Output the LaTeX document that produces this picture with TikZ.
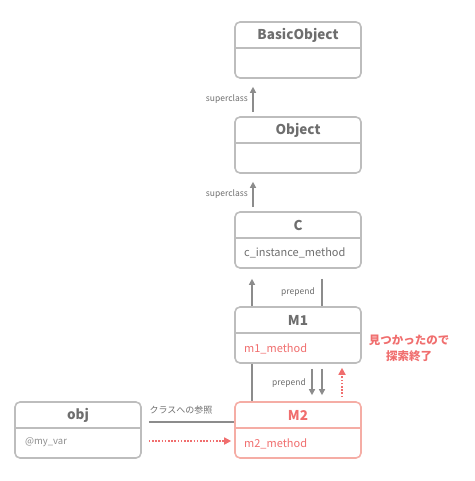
\documentclass[tikz,border=0pt]{standalone}
\usepackage{fontspec}
\setmainfont{Noto Sans CJK JP}
\usetikzlibrary{arrows.meta,calc}
\definecolor{bgray}{HTML}{BDBDBD}
\definecolor{tgray}{HTML}{6E6E6E}
\definecolor{agray}{HTML}{8C8C8C}
\definecolor{rtext}{HTML}{F06E6E}
\definecolor{rbox}{HTML}{F5ADA5}
\tikzset{
  box/.style={draw=bgray,line width=1.6pt,rounded corners=5pt,minimum width=126pt,minimum height=56pt,inner sep=0pt},
  rbx/.style={box,draw=rbox},
  divline/.style={draw=bgray,line width=1.4pt},
  rdivline/.style={draw=rbox,line width=1.4pt},
  ttl/.style={text=tgray,font=\fontsize{13.5}{15}\selectfont\bfseries,inner sep=0pt},
  meth/.style={text=tgray,font=\fontsize{11}{13}\selectfont,anchor=west,inner sep=0pt},
  lbl/.style={text=tgray,font=\fontsize{8.5}{10}\selectfont,inner sep=0pt},
  garrow/.style={draw=agray,line width=1.3pt,-{Triangle[length=6pt,width=6pt]}},
  gline/.style={draw=agray,line width=1.3pt},
  thick gline/.style={draw=agray,line width=2pt},
  rdot/.style={draw=rtext,line width=1.6pt,dash pattern=on 1.6pt off 1.6pt,-{Triangle[length=7pt,width=7pt]}},
}
\begin{document}
\begin{tikzpicture}[x=1pt,y=-1pt]
\useasboundingbox (0,0) rectangle (474,481);
% boxes
\node[box] (bo) at (298,50) {};
\node[ttl] (bot) at (298,35.5) {BasicObject};
\draw[divline] (bo.west |- 0,48) -- (bo.east |- 0,48);

\node[box] (ob) at (298,145) {};
\node[ttl] (obt) at (298,130.5) {Object};
\draw[divline] (ob.west |- 0,143) -- (ob.east |- 0,143);

\node[box] (c) at (298,240) {};
\node[ttl] (ct) at (298,225.5) {C};
\draw[divline] (c.west |- 0,238) -- (c.east |- 0,238);
\node[meth] (cm) at (244,253) {c\_instance\_method};

\node[box] (m1) at (298,335) {};
\node[ttl] (m1t) at (298,320.5) {M1};
\draw[divline] (m1.west |- 0,333) -- (m1.east |- 0,333);
\node[meth,text=rtext] (m1m) at (244,348.5) {m1\_method};

\node[rbx] (m2) at (298,430) {};
\node[ttl,text=rtext] (m2t) at (298,415.5) {M2};
\draw[rdivline] (m2.west |- 0,428) -- (m2.east |- 0,428);
\node[meth,text=rtext] (m2m) at (244,443.5) {m2\_method};

\node[box] (obj) at (78,430) {};
\node[ttl] (objt) at (78,415.5) {obj};
\draw[divline] (obj.west |- 0,428) -- (obj.east |- 0,428);
\node[meth,font=\fontsize{9.5}{11}\selectfont,text=agray] (objm) at (25,442) {@my\_var};

% superclass arrows
\coordinate (s1a) at ($(ob.north)+(-45,-4)$);
\coordinate (s1b) at ($(bo.south)+(-45,8)$);
\draw[garrow] (s1a) -- (s1b);
\node[lbl,anchor=east] (sl1) at (248,99) {superclass};

\coordinate (s2a) at ($(c.north)+(-45,-4)$);
\coordinate (s2b) at ($(ob.south)+(-45,8)$);
\draw[garrow] (s2a) -- (s2b);
\node[lbl,anchor=east] (sl2) at (248,194) {superclass};

% C - M1
\coordinate (p1b) at ($(c.south)+(-46,10)$);
\draw[garrow] (m1.north -| p1b) -- (p1b);
\coordinate (p1r) at ($(c.south)+(24,10)$);
\draw[gline] (p1r) -- (m1.north -| p1r);
\node[lbl] (pl1) at (298,292) {prepend};

% M1 - M2
\coordinate (q1) at ($(m1.south)+(-46,0)$);
\draw[thick gline] (q1) -- (m2.north -| q1);
\coordinate (d1a) at ($(m1.south)+(14,5)$);
\coordinate (d1b) at ($(m2.north)+(14,-6)$);
\draw[garrow] (d1a) -- (d1b);
\coordinate (d2a) at ($(m1.south)+(24,5)$);
\coordinate (d2b) at ($(m2.north)+(24,-6)$);
\draw[garrow] (d2a) -- (d2b);
\node[lbl] (pl2) at (289,383) {prepend};
\coordinate (r1a) at ($(m2.north)+(44,-4)$);
\coordinate (r1b) at ($(m1.south)+(44,4)$);
\draw[rdot] (r1a) -- (r1b);

\node[text=rtext,font=\fontsize{11.5}{16}\selectfont\bfseries,align=center] (found) at (409,348) {見つかったので\\探索終了};

% obj - M2
\coordinate (o1) at ($(obj.east)+(7,-8)$);
\draw[thick gline] (o1) -- (m2.west |- o1);
\coordinate (o2) at ($(obj.east)+(7,11)$);
\coordinate (o2b) at ($(m2.west |- o2)+(-3,0)$);
\draw[rdot] (o2) -- (o2b);
\node[lbl,font=\fontsize{9}{10}\selectfont] (ol) at (181,410) {クラスへの参照};
\end{tikzpicture}
\end{document}
